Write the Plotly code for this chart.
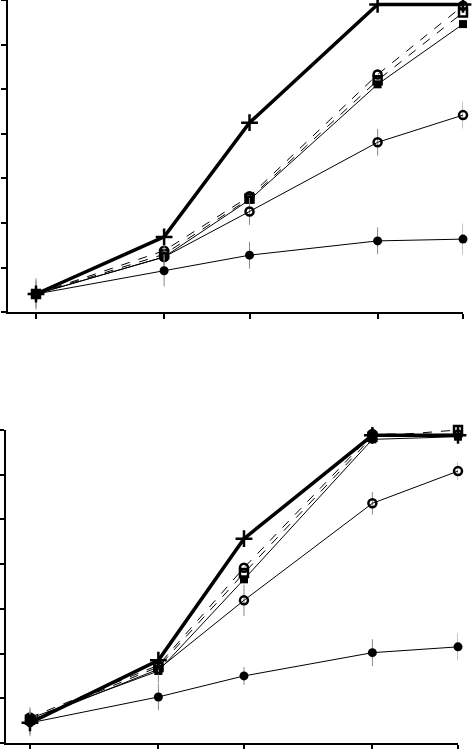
import plotly.graph_objects as go

# sampling times (x axis, no labels shown)
times = [0, 1.5, 2.5, 4, 5]

# upper panel
top_cross = [0.41, 1.69, 4.25, 6.90, 6.90]
top_fill_circle = [0.41, 0.93, 1.28, 1.60, 1.64]
top_open_circle = [0.41, 1.24, 2.26, 3.81, 4.42]
top_fill_square = [0.41, 1.24, 2.52, 5.11, 6.46]
top_dash_circle = [0.41, 1.38, 2.60, 5.33, 6.87]
top_dash_square = [0.41, 1.30, 2.55, 5.20, 6.72]
top_err_fill = [0.35, 0.35, 0.3, 0.3, 0.35]
top_err_open = [0.3, 0.3, 0.3, 0.3, 0.3]

# lower panel
bot_cross = [0.45, 1.85, 4.57, 6.88, 6.88]
bot_fill_circle = [0.45, 1.03, 1.50, 2.02, 2.15]
bot_open_circle = [0.50, 1.65, 3.19, 5.36, 6.08]
bot_fill_square = [0.55, 1.61, 3.66, 6.79, 6.85]
bot_dash_circle = [0.57, 1.74, 3.92, 6.91, 6.90]
bot_dash_square = [0.52, 1.70, 3.80, 6.85, 7.00]
bot_err_fill = [0.3, 0.3, 0.2, 0.3, 0.3]
bot_err_open = [0.3, 0.3, 0.35, 0.25, 0.2]

series = [
    # name, marker symbol, dash, line width, marker size
    ("fill_square", "square", "solid", 1, 8),
    ("dash_circle", "circle-open", "dash", 1, 8),
    ("dash_square", "square-open", "dash", 1, 8),
    ("open_circle", "circle-open", "solid", 1, 8),
    ("fill_circle", "circle", "solid", 1, 9),
    ("cross", "cross-thin", "solid", 3.5, 12),
]

top_data = {"cross": top_cross, "fill_circle": top_fill_circle, "open_circle": top_open_circle,
            "fill_square": top_fill_square, "dash_circle": top_dash_circle, "dash_square": top_dash_square}
bot_data = {"cross": bot_cross, "fill_circle": bot_fill_circle, "open_circle": bot_open_circle,
            "fill_square": bot_fill_square, "dash_circle": bot_dash_circle, "dash_square": bot_dash_square}
top_err = {"fill_circle": top_err_fill, "open_circle": top_err_open}
bot_err = {"fill_circle": bot_err_fill, "open_circle": bot_err_open}

fig = go.Figure()

for data, errs, xa, ya in [(top_data, top_err, "x", "y"), (bot_data, bot_err, "x2", "y2")]:
    for name, sym, dash, lw, ms in series:
        err = None
        if name in errs:
            err = dict(type="data", array=errs[name], color="#888", thickness=1, width=0)
        fig.add_trace(go.Scatter(
            x=times, y=data[name], xaxis=xa, yaxis=ya, mode="lines+markers",
            line=dict(color="black", width=lw, dash=dash),
            marker=dict(symbol=sym, size=ms, color="black",
                        line=dict(color="black", width=2.5 if "open" in sym or "cross" in sym else 0)),
            error_y=err, cliponaxis=False, showlegend=False,
        ))

ax = dict(showline=True, linecolor="black", linewidth=2, ticks="outside", ticklen=5,
          tickcolor="black", tickwidth=1.5, showticklabels=False, showgrid=False, zeroline=False)

fig.update_layout(
    width=474, height=749,
    margin=dict(l=0, r=0, t=0, b=6),
    paper_bgcolor="white", plot_bgcolor="white",
    xaxis=dict(ax, domain=[8 / 474, 463 / 474], range=[-0.328, 5], tickvals=times, anchor="y"),
    yaxis=dict(ax, domain=[0.5797, 1], range=[0, 7], tickvals=list(range(8)), anchor="x"),
    xaxis2=dict(ax, domain=[6 / 474, 458 / 474], range=[-0.28, 5], tickvals=times, anchor="y2"),
    yaxis2=dict(ax, domain=[0, 0.4213], range=[0, 7], tickvals=list(range(8)), anchor="x2"),
)

# the page body has a default 8px margin; drop it so the figure sits at the window corner
fig.write_html("out.html", config={"displayModeBar": False},
               post_script="document.body.style.margin='0';")
